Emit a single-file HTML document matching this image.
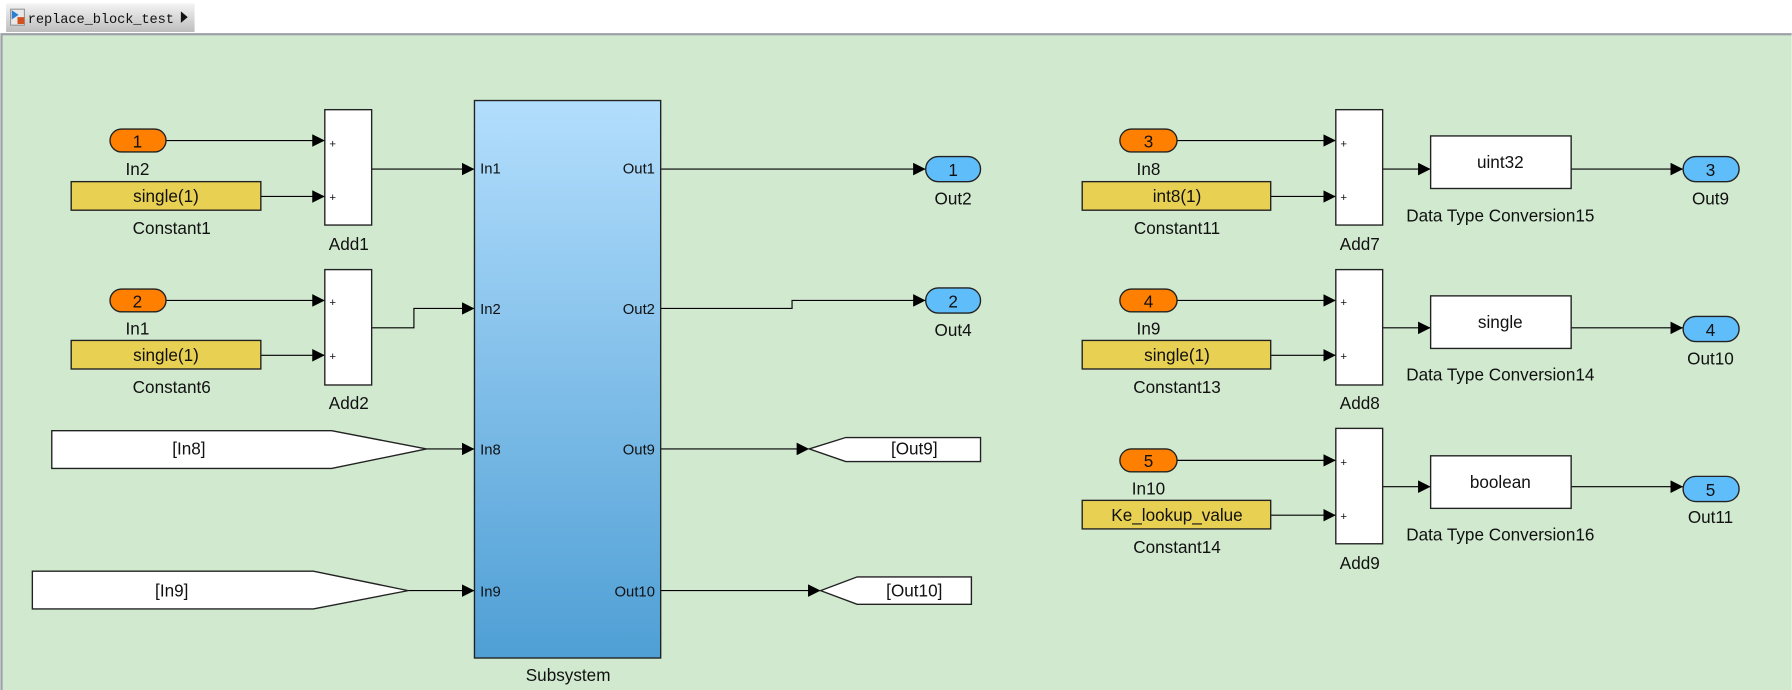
<!DOCTYPE html>
<html><head><meta charset="utf-8"><style>
html,body{margin:0;padding:0;width:1792px;height:690px;overflow:hidden;background:#fff}
svg{display:block}
text{font-family:"Liberation Sans",sans-serif;fill:#111}
</style></head><body>
<svg width="1792" height="690" viewBox="0 0 1568 604" xmlns="http://www.w3.org/2000/svg">
<defs>
<linearGradient id="ss" x1="0" y1="0" x2="0" y2="1"><stop offset="0" stop-color="#b3defd"/><stop offset="1" stop-color="#4f9fd5"/></linearGradient>
<linearGradient id="tab" x1="0" y1="0" x2="0" y2="1"><stop offset="0" stop-color="#f4f4f4"/><stop offset="1" stop-color="#bdbdbd"/></linearGradient>
<marker id="a" viewBox="0 0 10 10" refX="10" refY="5" markerWidth="11" markerHeight="11" markerUnits="userSpaceOnUse" orient="auto"><path d="M0,0L10,5L0,10z" fill="#000"/></marker>
</defs>
<rect x="0" y="0" width="1568" height="30" fill="#fff"/>
<rect x="5" y="3" width="165" height="25" fill="url(#tab)"/>
<rect x="9" y="8" width="12" height="14" fill="#e8e8e8" stroke="#888" stroke-width="0.8"/>
<path d="M10,9 L16,13 L10,17z" fill="#2a7fd0"/><rect x="15" y="15" width="6" height="6" fill="#d2501e"/>
<text x="24" y="20" textLength="128" style="font-family:'Liberation Mono',monospace;font-size:12px">replace_block_test</text>
<path d="M158,10 L164,15 L158,20z" fill="#111"/>
<rect x="0" y="29" width="1568" height="2" fill="#9aa0a6"/>
<rect x="2" y="31" width="1566" height="573" fill="#d0e9cf"/>
<rect x="0" y="31" width="2" height="573" fill="#9aa0a6"/>

<g stroke="#000" stroke-width="1" fill="none">
<path d="M145,123H284" marker-end="url(#a)"/><path d="M228,172H284" marker-end="url(#a)"/>
<path d="M325,148H415" marker-end="url(#a)"/>
<path d="M145,263H284" marker-end="url(#a)"/><path d="M228,311H284" marker-end="url(#a)"/>
<path d="M325,287H362V270H415" marker-end="url(#a)"/>
<path d="M373,393H415" marker-end="url(#a)"/><path d="M357,517H415" marker-end="url(#a)"/>
<path d="M578,148H810" marker-end="url(#a)"/>
<path d="M578,270H693V263H810" marker-end="url(#a)"/>
<path d="M578,393H708" marker-end="url(#a)"/><path d="M578,517H718" marker-end="url(#a)"/>
<path d="M1030,123H1169" marker-end="url(#a)"/><path d="M1112,172H1169" marker-end="url(#a)"/>
<path d="M1210,148H1252" marker-end="url(#a)"/><path d="M1375,148H1473" marker-end="url(#a)"/>
<path d="M1030,263H1169" marker-end="url(#a)"/><path d="M1112,311H1169" marker-end="url(#a)"/>
<path d="M1210,287H1252" marker-end="url(#a)"/><path d="M1375,287H1473" marker-end="url(#a)"/>
<path d="M1030,403H1169" marker-end="url(#a)"/><path d="M1112,451H1169" marker-end="url(#a)"/>
<path d="M1210,426H1252" marker-end="url(#a)"/><path d="M1375,426H1473" marker-end="url(#a)"/>
</g>

<g stroke="#222" stroke-width="1.2">
<rect x="415" y="88" width="163" height="488" fill="url(#ss)"/>
<rect x="96" y="113" width="49" height="20" rx="10" fill="#ff8000"/>
<rect x="96" y="253" width="49" height="20" rx="10" fill="#ff8000"/>
<rect x="980" y="113" width="50" height="20" rx="10" fill="#ff8000"/>
<rect x="980" y="253" width="50" height="20" rx="10" fill="#ff8000"/>
<rect x="980" y="393" width="50" height="20" rx="10" fill="#ff8000"/>
<rect x="62" y="159" width="166" height="25" fill="#e8d052"/>
<rect x="62" y="298" width="166" height="25" fill="#e8d052"/>
<rect x="947" y="159" width="165" height="25" fill="#e8d052"/>
<rect x="947" y="298" width="165" height="25" fill="#e8d052"/>
<rect x="947" y="438" width="165" height="25" fill="#e8d052"/>
<rect x="284" y="96" width="41" height="101" fill="#fff"/>
<rect x="284" y="236" width="41" height="101" fill="#fff"/>
<rect x="1169" y="96" width="41" height="101" fill="#fff"/>
<rect x="1169" y="236" width="41" height="101" fill="#fff"/>
<rect x="1169" y="375" width="41" height="101" fill="#fff"/>
<rect x="1252" y="119" width="123" height="46" fill="#fff"/>
<rect x="1252" y="259" width="123" height="46" fill="#fff"/>
<rect x="1252" y="399" width="123" height="46" fill="#fff"/>
<rect x="810" y="137" width="48" height="22" rx="11" fill="#5fbdfa"/>
<rect x="810" y="252" width="48" height="22" rx="11" fill="#5fbdfa"/>
<rect x="1473" y="137" width="49" height="22" rx="11" fill="#5fbdfa"/>
<rect x="1473" y="277" width="49" height="22" rx="11" fill="#5fbdfa"/>
<rect x="1473" y="417" width="49" height="22" rx="11" fill="#5fbdfa"/>
<path d="M45,377H290L373,393L290,410H45z" fill="#fff"/>
<path d="M28,500H274L357,517L274,533H28z" fill="#fff"/>
<path d="M708,393L740,383H858V404H740z" fill="#fff"/>
<path d="M718,517L750,505H850V529H750z" fill="#fff"/>
</g>

<g font-size="15" text-anchor="middle">
<text x="120" y="129">1</text><text x="120" y="269">2</text>
<text x="1005" y="129">3</text><text x="1005" y="269">4</text><text x="1005" y="409">5</text>
<text x="834" y="154">1</text><text x="834" y="269">2</text>
<text x="1497" y="154">3</text><text x="1497" y="294">4</text><text x="1497" y="434">5</text>
<text x="120" y="153">In2</text><text x="120" y="293">In1</text>
<text x="145" y="177">single(1)</text><text x="145" y="316">single(1)</text>
<text x="150" y="205">Constant1</text><text x="150" y="344">Constant6</text>
<text x="305" y="219">Add1</text><text x="305" y="358">Add2</text>
<text x="165" y="398">[In8]</text><text x="150" y="522">[In9]</text>
<text x="800" y="398">[Out9]</text><text x="800" y="522">[Out10]</text>
<text x="834" y="179">Out2</text><text x="834" y="294">Out4</text>
<text x="497" y="596">Subsystem</text>
<text x="1005" y="153">In8</text><text x="1005" y="293">In9</text><text x="1005" y="433">In10</text>
<text x="1030" y="177">int8(1)</text><text x="1030" y="316">single(1)</text><text x="1030" y="456">Ke_lookup_value</text>
<text x="1030" y="205">Constant11</text><text x="1030" y="344">Constant13</text><text x="1030" y="484">Constant14</text>
<text x="1190" y="219">Add7</text><text x="1190" y="358">Add8</text><text x="1190" y="498">Add9</text>
<text x="1313" y="147">uint32</text><text x="1313" y="287">single</text><text x="1313" y="427">boolean</text>
<text x="1313" y="194">Data Type Conversion15</text><text x="1313" y="333">Data Type Conversion14</text><text x="1313" y="473">Data Type Conversion16</text>
<text x="1497" y="179">Out9</text><text x="1497" y="319">Out10</text><text x="1497" y="458">Out11</text>
</g>
<g font-size="13">
<text x="420" y="152">In1</text><text x="420" y="275">In2</text><text x="420" y="398">In8</text><text x="420" y="522">In9</text>
<g text-anchor="end"><text x="573" y="152">Out1</text><text x="573" y="275">Out2</text><text x="573" y="398">Out9</text><text x="573" y="522">Out10</text></g>
</g>
<g font-size="10">
<text x="288" y="129">+</text><text x="288" y="176">+</text>
<text x="288" y="268">+</text><text x="288" y="315">+</text>
<text x="1173" y="129">+</text><text x="1173" y="176">+</text>
<text x="1173" y="268">+</text><text x="1173" y="315">+</text>
<text x="1173" y="408">+</text><text x="1173" y="455">+</text>
</g>
</svg>
</body></html>
